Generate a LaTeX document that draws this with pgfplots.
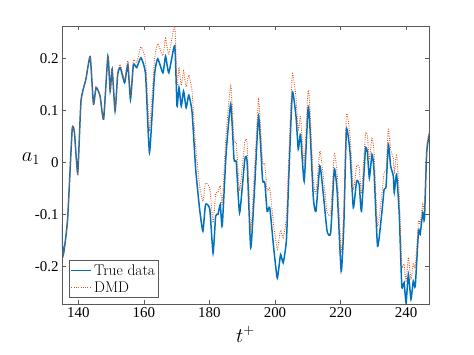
\documentclass[border=0pt]{standalone}
\usepackage{fontspec}
\usepackage{pgfplots}
\pgfplotsset{compat=1.18}
\usepackage{pgfplotstable}
\newfontfamily\timesfont{Liberation Serif}
\definecolor{mblue}{rgb}{0,0.447,0.741}
\definecolor{morange}{rgb}{0.85,0.325,0.098}
\definecolor{axgray}{gray}{0.35}

\pgfplotstableread{
t a
134.8 -0.120
135.4 -0.177
136.7 -0.110
138.1 0.063
138.8 0.057
139.8 -0.020
140.8 0.118
142.3 0.160
143.6 0.203
144.6 0.112
145.4 0.144
146.6 0.128
147.7 0.083
149.0 0.204
149.7 0.137
150.3 0.179
151.2 0.099
152.0 0.169
152.8 0.182
154.1 0.153
155.1 0.188
155.9 0.121
156.8 0.188
157.8 0.182
159.1 0.201
160.5 0.169
161.7 0.019
163.2 0.166
164.2 0.199
165.8 0.172
166.6 0.204
167.6 0.172
169.4 0.224
170.1 0.108
170.7 0.144
171.4 0.108
172.1 0.137
172.9 0.105
173.7 0.129
174.7 0.096
175.8 -0.013
177.0 -0.090
178.0 -0.132
178.8 -0.081
180.1 -0.090
181.1 -0.174
181.9 -0.103
182.6 -0.100
183.3 -0.081
183.9 -0.122
185.1 0.019
186.5 0.112
187.5 0.006
188.2 0.000
189.2 -0.097
190.8 0.006
191.5 0.000
192.6 -0.164
193.8 -0.046
195.0 0.089
196.2 -0.033
196.9 -0.039
197.6 -0.094
198.4 -0.087
199.6 -0.164
200.7 -0.222
201.7 -0.177
202.5 -0.193
203.5 -0.148
204.3 -0.013
205.3 0.134
206.4 0.089
207.1 0.025
207.8 0.054
208.9 -0.036
210.1 0.105
210.6 0.076
211.7 -0.068
212.5 -0.094
213.7 -0.007
214.7 -0.058
215.9 -0.132
217.0 -0.135
218.1 -0.013
219.0 -0.058
220.2 -0.209
221.0 -0.122
221.8 0.063
222.9 0.019
223.9 -0.087
224.9 -0.036
225.7 -0.042
226.4 -0.094
227.6 0.025
228.2 0.019
228.8 -0.030
229.6 0.015
230.2 -0.013
231.3 -0.161
232.6 -0.097
233.3 -0.052
233.9 -0.046
234.6 0.035
235.3 -0.007
236.1 -0.026
236.4 -0.058
237.1 -0.023
237.9 -0.097
238.7 -0.238
239.4 -0.231
240.0 -0.270
240.7 -0.215
241.5 -0.263
242.2 -0.228
242.8 -0.238
243.8 -0.132
244.3 -0.138
245.1 -0.097
245.6 -0.110
246.3 0.019
247.1 0.054
}\truedata

\pgfplotstableread{
t a
134.8 -0.120
135.4 -0.177
136.7 -0.110
138.1 0.063
138.8 0.057
139.8 -0.025
140.8 0.118
142.3 0.160
143.6 0.203
144.6 0.112
145.4 0.144
146.6 0.128
147.7 0.083
149.0 0.205
149.7 0.138
150.3 0.181
151.2 0.101
152.0 0.173
152.8 0.188
154.1 0.158
155.1 0.195
155.9 0.128
156.8 0.196
157.8 0.192
159.1 0.222
160.5 0.195
161.7 0.063
163.2 0.195
164.2 0.228
165.8 0.205
166.6 0.238
167.6 0.208
169.4 0.262
170.1 0.148
170.7 0.183
171.4 0.148
172.1 0.176
172.9 0.145
173.7 0.168
174.7 0.135
175.8 0.030
177.0 -0.045
178.0 -0.075
178.8 -0.040
180.1 -0.050
181.1 -0.116
181.9 -0.060
182.6 -0.058
183.3 -0.045
183.9 -0.080
185.1 0.055
186.5 0.147
187.5 0.042
188.2 0.036
189.2 -0.055
190.8 0.040
191.5 0.034
192.6 -0.128
193.8 -0.010
195.0 0.121
196.2 0.000
196.9 -0.004
197.6 -0.055
198.4 -0.050
199.6 -0.120
200.7 -0.167
201.7 -0.130
202.5 -0.145
203.5 -0.105
204.3 0.025
205.3 0.170
206.4 0.125
207.1 0.060
207.8 0.088
208.9 0.000
210.1 0.137
210.6 0.110
211.7 -0.032
212.5 -0.060
213.7 0.022
214.7 -0.025
215.9 -0.095
217.0 -0.098
218.1 0.016
219.0 -0.025
220.2 -0.174
221.0 -0.090
221.8 0.092
222.9 0.050
223.9 -0.052
224.9 -0.007
225.7 -0.010
226.4 -0.060
227.6 0.054
228.2 0.050
228.8 0.005
229.6 0.046
230.2 0.020
231.3 -0.122
232.6 -0.062
233.3 -0.020
233.9 -0.013
234.6 0.066
235.3 0.025
236.1 0.008
236.4 -0.022
237.1 0.016
237.9 -0.060
238.7 -0.197
239.4 -0.195
240.0 -0.230
240.7 -0.182
241.5 -0.225
242.2 -0.195
242.8 -0.200
243.8 -0.113
244.3 -0.118
245.1 -0.080
245.6 -0.090
246.3 0.030
247.1 0.060
}\dmddata

\begin{document}
\begin{tikzpicture}
\useasboundingbox (-62bp,-51bp) rectangle (412bp,304bp);
\begin{axis}[
  scale only axis,
  width=367bp, height=278bp,
  xmin=135, xmax=247,
  ymin=-0.272, ymax=0.262,
  xtick={140,160,...,240},
  ytick={-0.2,-0.1,0,0.1,0.2},
  yticklabel style={/pgf/number format/fixed,/pgf/number format/precision=1},
  /pgf/number format/assume math mode=true,
  tick label style={font=\timesfont\fontsize{15}{17}\selectfont, text=black},
  tick align=inside,
  major tick length=4bp,
  tick style={axgray, line width=0.6pt},
  axis line style={axgray, line width=0.6pt},
  xlabel={$t^+$},
  ylabel={$a_1$},
  label style={font=\fontsize{21}{23}\selectfont},
  xlabel style={yshift=-2bp},
  ylabel style={rotate=-90, xshift=12bp, yshift=6bp},
  legend style={at={(0.02,0.0216)}, anchor=south west,
    font=\fontsize{15.5}{17}\selectfont, draw=axgray, line width=0.6pt,
    inner xsep=1bp, inner ysep=2bp, row sep=1bp},
  legend cell align=left,
  legend image code/.code={\draw[#1] (0bp,0bp) -- (20bp,0bp);},
]
\addplot[mblue, line width=1.5pt, smooth, tension=0.3] table[x=t,y=a] {\truedata};
\addlegendentry{True data}
\addplot[morange, line width=0.9pt, dash pattern=on 0.9pt off 1.4pt, smooth, tension=0.3] table[x=t,y=a] {\dmddata};
\addlegendentry{DMD}
\end{axis}
\end{tikzpicture}
\end{document}
